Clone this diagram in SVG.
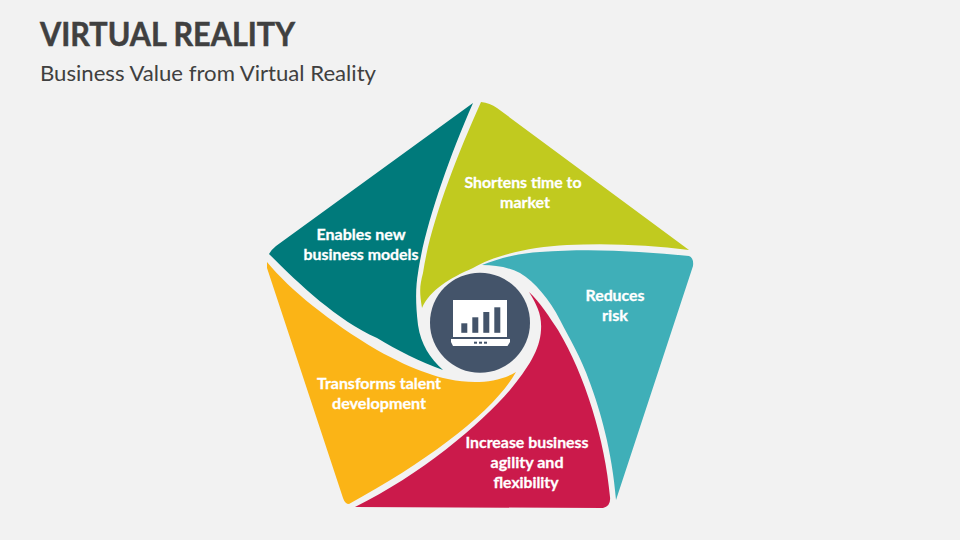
<svg xmlns="http://www.w3.org/2000/svg" width="960" height="540" viewBox="0 0 960 540">
<style>
text{font-family:Lato,"Open Sans","Liberation Sans",sans-serif}
.t{font-weight:700;font-size:16px;fill:#fff;text-anchor:middle;stroke:#fff;stroke-width:.3px}
.h{font-weight:700;font-size:32.5px;fill:#404040;stroke:#404040;stroke-width:.5px}
.s{font-size:22px;fill:#404040}
</style>
<rect width="960" height="540" fill="#f2f2f2"/>
<text class="h" x="40" y="46" textLength="255" lengthAdjust="spacingAndGlyphs">VIRTUAL REALITY</text>
<text class="s" x="40" y="80.500" textLength="336" lengthAdjust="spacingAndGlyphs">Business Value from Virtual Reality</text>
<g id="node-teal">
<path d="M473 103L276 246Q271 250 269 254C300 285 337 320 377 338C397 350 420 362 443 370C430 358 421 345 418 325C415 300 416 285 418 273C424 230 447 162 473 103Z" fill="#007a7b"/>
<text class="t" x="361" y="240" textLength="89" lengthAdjust="spacingAndGlyphs">Enables new</text>
<text class="t" x="361" y="260" textLength="115" lengthAdjust="spacingAndGlyphs">business models</text>
</g>
<g id="node-green">
<path d="M481 102Q490 103 497 108L689 250C650 245 610 243 567 245C530 247 495 255 473 268C450 278 430 290 422 308C419 290 420 285 423 273C430 225 455 160 481 102Z" fill="#c1ca1f"/>
<text class="t" x="523" y="188" textLength="117" lengthAdjust="spacingAndGlyphs">Shortens time to</text>
<text class="t" x="525" y="208" textLength="50" lengthAdjust="spacingAndGlyphs">market</text>
</g>
<g id="node-blue">
<path d="M482 265C500 258 520 253 540 252C590 248 640 251 689 256Q694 258 693 266L616 500C612 450 600 410 590 383C580 355 570 340 560 320C550 300 535 282 520 273C508 267 495 265 482 265Z" fill="#3fafb8"/>
<text class="t" x="615" y="301" textLength="59" lengthAdjust="spacingAndGlyphs">Reduces</text>
<text class="t" x="615" y="321" textLength="26" lengthAdjust="spacingAndGlyphs">risk</text>
</g>
<g id="node-crimson">
<path d="M529 292C540 302 550 318 558 330C585 375 605 440 610 497Q611 506 603 508L355 507C420 475 480 425 510 390C528 368 540 350 541 330C542 315 537 305 529 292Z" fill="#cb1a4b"/>
<text class="t" x="527" y="448" textLength="123" lengthAdjust="spacingAndGlyphs">Increase business</text>
<text class="t" x="527" y="468" textLength="73" lengthAdjust="spacingAndGlyphs">agility and</text>
<text class="t" x="526" y="488" textLength="65" lengthAdjust="spacingAndGlyphs">flexibility</text>
</g>
<g id="node-yellow">
<path d="M267 262C290 290 330 322 377 350C395 360 412 368 427 373C450 382 490 388 516 372C495 410 430 460 349 504Q345 504 343 498L267 268Z" fill="#fbb416"/>
<text class="t" x="379" y="389" textLength="124" lengthAdjust="spacingAndGlyphs">Transforms talent</text>
<text class="t" x="379" y="409" textLength="94" lengthAdjust="spacingAndGlyphs">development</text>
</g>
<g id="node-center">
<circle cx="480" cy="322.7" r="50" fill="#44546a"/>
<rect x="453" y="300" width="54" height="37" fill="#fff"/>
<g fill="#44546a">
<rect x="461.3" y="323.3" width="6" height="9.5"/>
<rect x="472.3" y="317.3" width="6" height="15.5"/>
<rect x="483.3" y="312" width="6" height="20.8"/>
<rect x="494.3" y="307.3" width="6" height="25.5"/>
</g>
<path d="M451 339H510V342L507.500 346H453L451 342Z" fill="#fff"/>
<g fill="#44546a">
<rect x="474" y="341.7" width="3" height="2"/>
<rect x="479" y="341.7" width="3" height="2"/>
<rect x="484" y="341.7" width="3" height="2"/>
</g>
</g>
<g id="connectors"/>
</svg>
